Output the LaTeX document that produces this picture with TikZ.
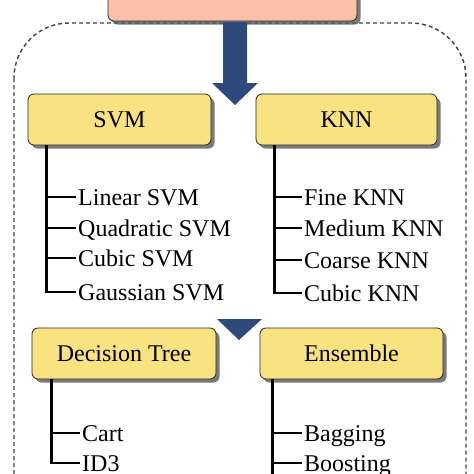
\documentclass[tikz,border=0pt]{standalone}
\usepackage{fontspec}
\setmainfont{Liberation Serif}
\usetikzlibrary{shadows}
\definecolor{boxyellow}{RGB}{249,226,128}
\definecolor{boxsalmon}{RGB}{250,192,170}
\definecolor{arrowblue}{RGB}{46,74,122}
\begin{document}
\begin{tikzpicture}[x=1pt,y=-1pt,
  font=\fontsize{24}{28}\selectfont,
  catbox/.style={draw=black!85,line width=0.8pt,fill=boxyellow,rounded corners=6pt,
    minimum height=51pt,drop shadow={shadow xshift=3.5pt,shadow yshift=-3.5pt,fill=black!65,opacity=0.8}},
  item/.style={anchor=west,inner sep=2pt,text height=16pt,text depth=0pt},
  trunk/.style={line width=2.4pt}]
\useasboundingbox (0,0) rectangle (474,474);
\clip (0,0) rectangle (474,474);
% A) dashed frame + top box + arrows
\draw[black!75,line width=1.4pt,dash pattern=on 4pt off 3pt,rounded corners=55pt] (14,23) rectangle (466,540);
\node[catbox,fill=boxsalmon,minimum width=249pt,minimum height=60pt] (top) at (232.5,-9) {};
\fill[arrowblue] (223,22) -- (247,22) -- (247,83) -- (258,83) -- (235,105) -- (212,83) -- (223,83) -- cycle;
\fill[arrowblue] (217,319) -- (262,319) -- (239,340) -- cycle;
% B) SVM + KNN
\node[catbox,minimum width=183pt] (svm) at (119.5,119.5) {SVM};
\node[catbox,minimum width=181pt] (knn) at (346.5,119.5) {KNN};
\node[item] (lsvm) at (76,197) {Linear SVM};
\node[item] (qsvm) at (76,228) {Quadratic SVM};
\node[item] (csvm) at (76,258) {Cubic SVM};
\node[item] (gsvm) at (76,292) {Gaussian SVM};
\node[item] (fknn) at (302,197) {Fine KNN};
\node[item] (mknn) at (302,228) {Medium KNN};
\node[item] (cknn) at (302,260) {Coarse KNN};
\node[item] (uknn) at (302,293) {Cubic KNN};
\foreach \i in {lsvm,qsvm,csvm,gsvm} \draw[trunk] ([xshift=19pt]svm.south west) |- (\i.west);
\foreach \i in {fknn,mknn,cknn,uknn} \draw[trunk] ([xshift=19pt]knn.south west) |- (\i.west);
% C) Decision Tree + Ensemble
\node[catbox,minimum width=184pt] (dt) at (124,353.5) {Decision Tree};
\node[catbox,minimum width=183pt] (ens) at (351.5,353.5) {Ensemble};
\node[item] (cart) at (80,433) {Cart};
\node[item] (idt) at (80,463) {ID3};
\node[item] (bag) at (302,433) {Bagging};
\node[item] (boost) at (302,463) {Boosting};
\foreach \i in {cart,idt} \draw[trunk] ([xshift=20pt]dt.south west) |- (\i.west);
\foreach \i in {bag,boost} \draw[trunk] ([xshift=13pt]ens.south west) |- (\i.west);
\draw[trunk] ([xshift=13pt]ens.south west) -- ++(0,140);
\end{tikzpicture}
\end{document}
